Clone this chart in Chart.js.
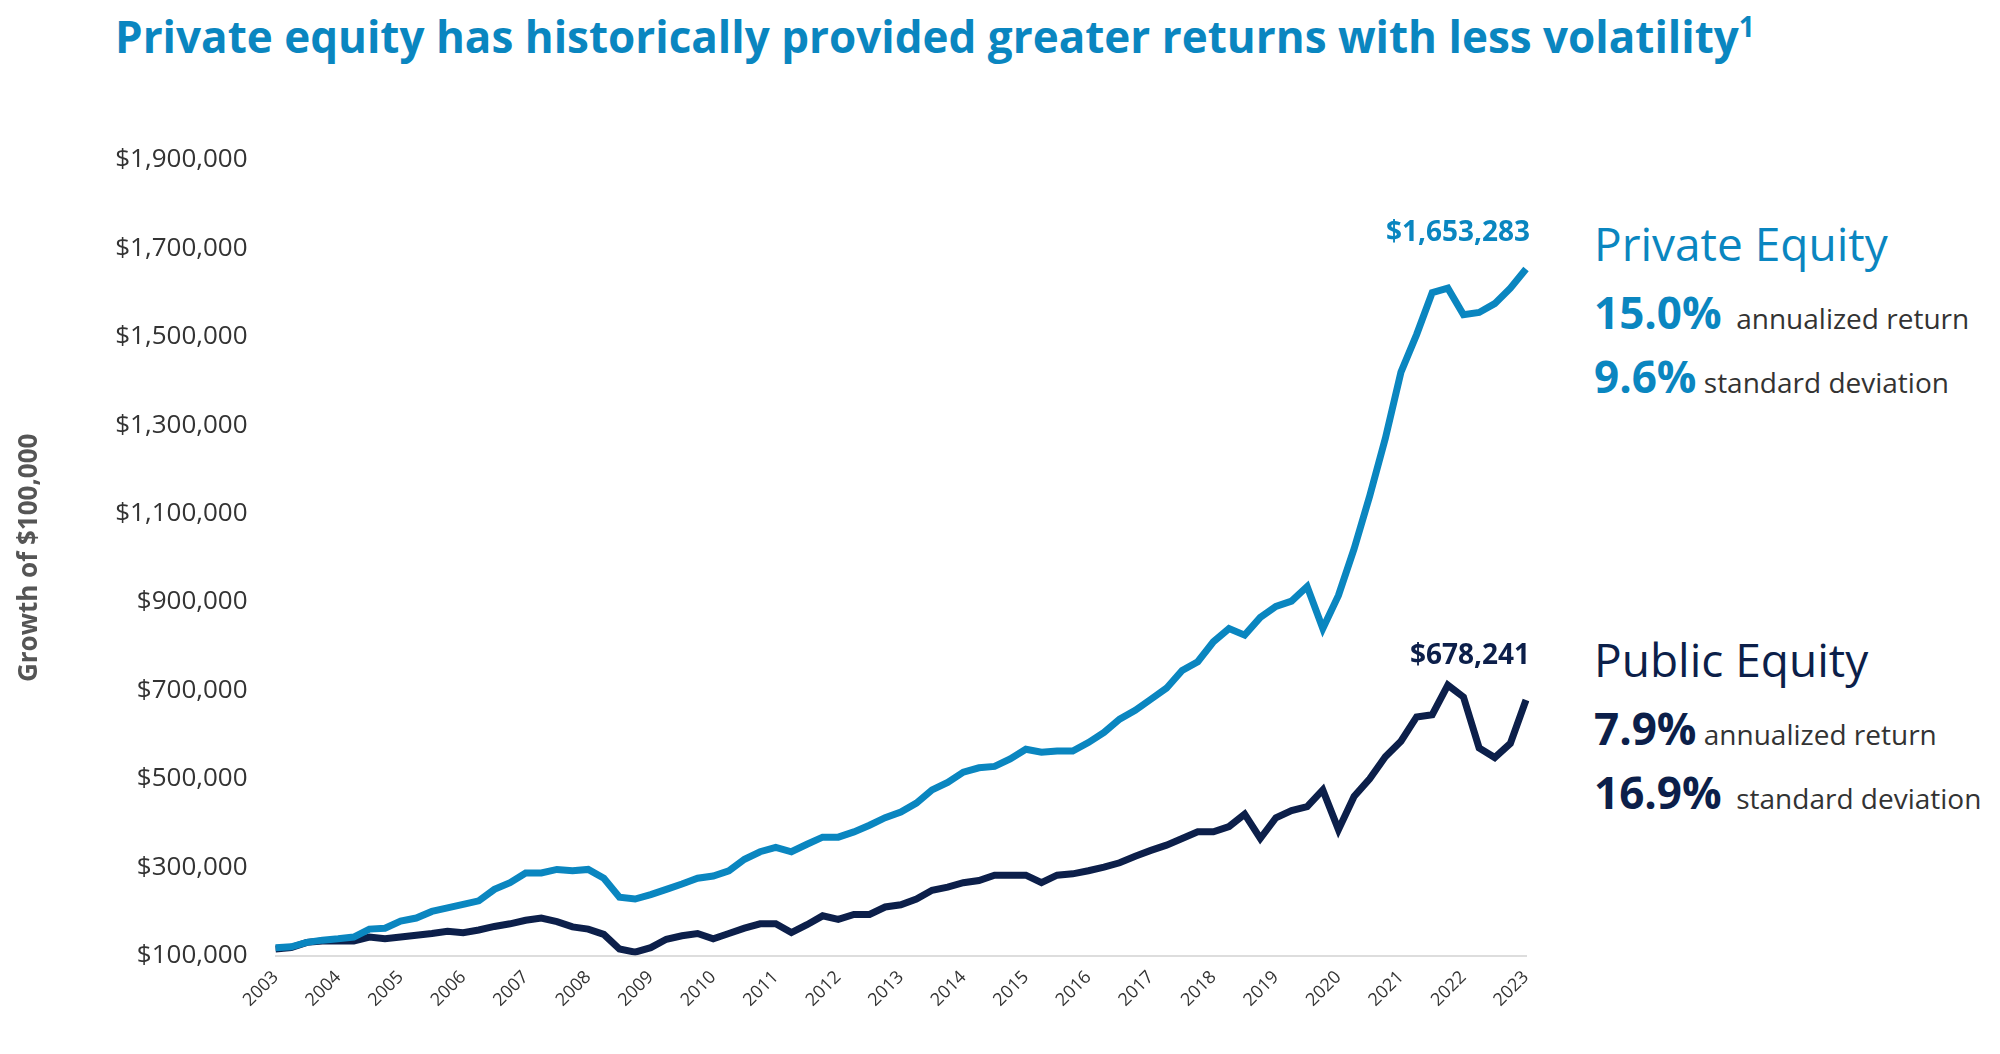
<!DOCTYPE html>
<html>
<head>
<meta charset="utf-8">
<script src="https://cdn.jsdelivr.net/npm/chart.js@4"></script>
<style>
  body { margin: 0; width: 2000px; height: 1054px; background: #fff; font-family: "Open Sans", sans-serif; position: relative; overflow: hidden; }
  #title { position: absolute; left: 115px; top: 6px; font-size: 44px; font-weight: 700; color: #0a86c0; }
  #title sup { font-size: 28px; }
  #wrap { position: absolute; left: 0; top: 0; width: 1560px; height: 1054px; }
  .side { position: absolute; left: 1594px; }
  .name { font-size: 46px; }
  .stat { font-size: 28px; color: #333; }
  .stat b { font-size: 44px; font-weight: 700; }
  .pe { color: #0a86c0; }
  .pub { color: #0c1f4a; }
</style>
</head>
<body>
<div id="title">Private equity has historically provided greater returns with less volatility<sup>1</sup></div>
<div id="wrap"><canvas id="c"></canvas></div>

<div class="side" style="top:212px">
  <div class="name pe">Private Equity</div>
  <div class="stat" style="margin-top:8px"><b class="pe">15.0%</b>&nbsp; annualized return</div>
  <div class="stat" style="margin-top:4px"><b class="pe">9.6%</b> standard deviation</div>
</div>
<div class="side" style="top:628px">
  <div class="name pub">Public Equity</div>
  <div class="stat" style="margin-top:8px"><b class="pub">7.9%</b> annualized return</div>
  <div class="stat" style="margin-top:4px"><b class="pub">16.9%</b>&nbsp; standard deviation</div>
</div>

<script>
// ---------- DATA ----------
const years = [];
for (let y = 2003; y <= 2023; y++) years.push(String(y));

// quarterly labels, year shown on Q1 only
const quarters = [];
years.forEach((y, i) => {
  if (i === years.length - 1) { quarters.push(y); return; }
  quarters.push(y, "", "", "");
});

const privateEquity = [
  118000, 120000, 130000, 135000,
  138000, 142000, 160000, 162000,
  178000, 185000, 200000, 208000,
  216000, 224000, 250000, 265000,
  287000, 287000, 295000, 292000,
  295000, 275000, 232000, 228000,
  238000, 250000, 262000, 275000,
  280000, 292000, 318000, 335000,
  345000, 335000, 352000, 368000,
  368000, 380000, 395000, 412000,
  425000, 445000, 475000, 492000,
  515000, 525000, 528000, 545000,
  567000, 560000, 563000, 563000,
  582000, 605000, 635000, 655000,
  680000, 705000, 745000, 765000,
  810000, 840000, 825000, 865000,
  890000, 902000, 935000, 840000,
  915000, 1020000, 1140000, 1270000,
  1420000, 1505000, 1600000, 1610000,
  1550000, 1555000, 1575000, 1610000,
  1653283
];

const publicEquity = [
  115000, 118000, 130000, 133000,
  133000, 133000, 142000, 138000,
  142000, 146000, 150000, 155000,
  152000, 158000, 166000, 172000,
  180000, 185000, 177000, 165000,
  160000, 148000, 115000, 108000,
  118000, 137000, 145000, 150000,
  138000, 150000, 162000, 172000,
  172000, 152000, 170000, 190000,
  182000, 193000, 193000, 210000,
  215000, 228000, 248000, 255000,
  265000, 270000, 282000, 282000,
  282000, 265000, 282000, 285000,
  292000, 300000, 310000, 325000,
  338000, 350000, 365000, 380000,
  380000, 392000, 420000, 365000,
  412000, 428000, 437000, 475000,
  385000, 460000, 500000, 550000,
  585000, 640000, 645000, 712000,
  685000, 570000, 548000, 580000,
  678241
];

const yTicks = [100000, 300000, 500000, 700000, 900000, 1100000, 1300000, 1500000, 1700000, 1900000];

const PE_COLOR = "#0a86c0";
const PUB_COLOR = "#0c1f4a";

// ---------- END LABELS ----------
const endLabels = {
  id: "endLabels",
  afterDatasetsDraw(chart) {
    const ctx = chart.ctx;
    ctx.save();
    ctx.font = "700 28px 'Open Sans'";
    ctx.textAlign = "right";
    ctx.textBaseline = "bottom";
    chart.data.datasets.forEach((ds, i) => {
      const pt = chart.getDatasetMeta(i).data[ds.data.length - 1];
      const v = ds.data[ds.data.length - 1];
      ctx.fillStyle = ds.borderColor;
      const off = i === 0 ? 22 : 30;
      ctx.fillText("$" + v.toLocaleString("en-US"), pt.x + 4, pt.y - off);
    });
    ctx.restore();
  }
};

const canvas = document.getElementById("c");
canvas.width = 1560; canvas.height = 1054;

new Chart(canvas, {
  type: "line",
  data: {
    labels: quarters,
    datasets: [
      { label: "Private Equity", data: privateEquity, borderColor: PE_COLOR, borderWidth: 7, pointRadius: 0, tension: 0 },
      { label: "Public Equity", data: publicEquity, borderColor: PUB_COLOR, borderWidth: 7, pointRadius: 0, tension: 0 }
    ]
  },
  options: {
    responsive: false,
    animation: false,
    layout: { padding: { top: 160, bottom: 40, right: 34, left: 10 } },
    plugins: { legend: { display: false }, tooltip: { enabled: false } },
    scales: {
      x: {
        grid: { display: false },
        border: { color: "#ddd", width: 2 },
        ticks: {
          autoSkip: false, maxRotation: 45, minRotation: 45,
          font: { family: "Open Sans", size: 18 }, color: "#333",
          callback: (v, i) => quarters[i]
        }
      },
      y: {
        min: 100000, max: 1900000,
        afterBuildTicks: s => { s.ticks = yTicks.map(v => ({ value: v })); },
        grid: { display: false },
        border: { display: false },
        ticks: {
          padding: 20,
          font: { family: "Open Sans", size: 26 }, color: "#333",
          callback: v => "$" + v.toLocaleString("en-US")
        },
        title: {
          display: true, text: "Growth of $100,000",
          font: { family: "Open Sans", size: 26, weight: "700" }, color: "#555",
          padding: { bottom: 50 }
        }
      }
    }
  },
  plugins: [endLabels]
});
</script>
</body>
</html>
